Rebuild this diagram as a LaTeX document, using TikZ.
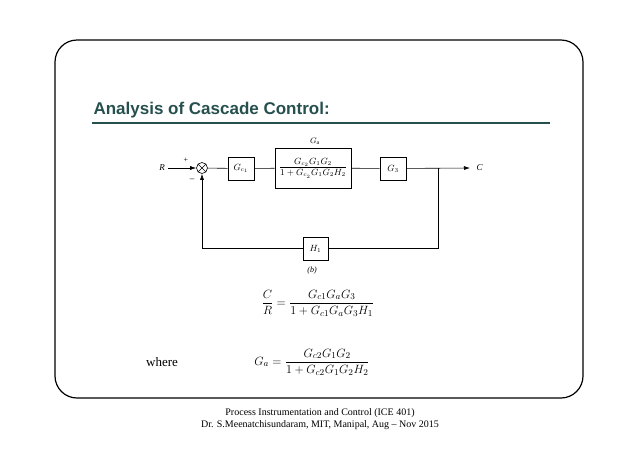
\documentclass[tikz,border=0pt]{standalone}
\usepackage{fontspec}
\setmainfont{Liberation Serif}
\newfontfamily\titlefont{Liberation Sans}
\usetikzlibrary{arrows.meta}
\definecolor{teal1}{RGB}{38,80,78}
\begin{document}
\begin{tikzpicture}[x=1pt,y=-1pt,
  blk/.style={draw,line width=0.6pt,inner sep=0pt,font=\fontsize{9}{10}\selectfont},
  sig/.style={line width=0.6pt},
  arr/.style={sig,-{Latex[length=6pt,width=4pt]}}]
\useasboundingbox (0,0) rectangle (638,451);
\draw[line width=1.2pt,rounded corners=22pt] (55,40) rectangle (583,398);
\node[anchor=west,text=teal1,font=\titlefont\bfseries\fontsize{17}{19}\selectfont] (title) at (90,110) {Analysis of Cascade Control:};
\draw[teal1,line width=2pt] (92,123) -- (550,123);
% block diagram
\node[draw,circle,minimum size=11pt,inner sep=0pt,line width=0.6pt] (sum) at (202,168) {};
\draw[line width=0.6pt] (sum.north west)--(sum.south east) (sum.north east)--(sum.south west);
\node[font=\fontsize{9}{10}\selectfont\itshape] (R) at (162,168) {R};
\node[blk,minimum width=26pt,minimum height=23pt] (gc1) at (241,168.5) {$G_{c_1}$};
\node[blk,minimum width=76pt,minimum height=40pt] (ga) at (313,168) {$\displaystyle\frac{G_{c_2}G_1G_2}{1+G_{c_2}G_1G_2H_2}$};
\node[font=\fontsize{8}{9}\selectfont] (galab) at (315,141) {$G_{\mathrm a}$};
\node[blk,minimum width=26pt,minimum height=23pt] (g3) at (393,168.5) {$G_3$};
\coordinate (br) at (438,168);
\coordinate (end) at (470,168);
\node[font=\fontsize{9}{10}\selectfont\itshape,anchor=west] (C) at (473,168) {C};
\node[blk,minimum width=25pt,minimum height=23pt] (h1) at (315.5,248.5) {$H_1$};
\node[font=\fontsize{8}{9}\selectfont\itshape] (b) at (312,271) {(b)};
\node[font=\fontsize{8}{9}\selectfont] (plus) at (186,160) {+};
\node[font=\fontsize{9}{10}\selectfont] (minus) at (192,180) {--};
\draw[arr] (R) -- (sum);
\draw[sig] (sum) -- (gc1);
\draw[sig] (gc1) -- (ga);
\draw[sig] (ga) -- (g3);
\draw[arr] (g3) -- (end);
\draw[sig] (br) |- (h1);
\draw[arr] (h1) -| (sum);
% equations
\node[font=\fontsize{13}{15}\selectfont] (eq1) at (318,303) {$\displaystyle \frac{C}{R}=\frac{G_{c1}G_aG_3}{1+G_{c1}G_aG_3H_1}$};
\node[font=\fontsize{13}{15}\selectfont] (where) at (162,362) {where};
\node[font=\fontsize{13}{15}\selectfont] (eq2) at (312,362) {$\displaystyle G_a=\frac{G_{c2}G_1G_2}{1+G_{c2}G_1G_2H_2}$};
\node[font=\fontsize{10}{12}\selectfont,align=center] (foot) at (320,419) {Process Instrumentation and Control (ICE 401)\\Dr. S.Meenatchisundaram, MIT, Manipal, Aug -- Nov 2015};
\end{tikzpicture}
\end{document}
